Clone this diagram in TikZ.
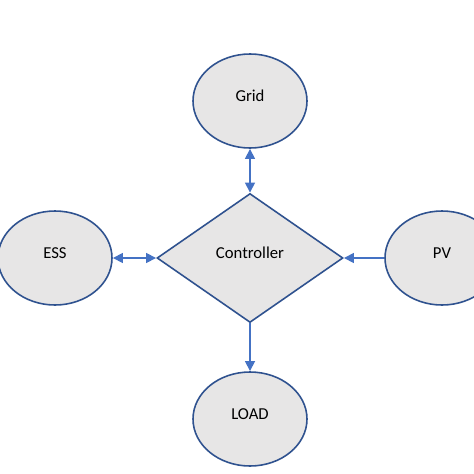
\documentclass[tikz,border=0pt]{standalone}
\usepackage{fontspec}
\setmainfont{Carlito}
\usetikzlibrary{shapes.geometric, arrows.meta}

\definecolor{rimblue}{RGB}{47,82,143}
\definecolor{linkblue}{RGB}{68,114,196}
\definecolor{boxgray}{RGB}{231,230,230}

\tikzset{
    unit/.style={ellipse, draw=rimblue, fill=boxgray, line width=0.9pt,
        minimum width=22.8mm, minimum height=18.8mm, inner sep=0pt,
        text height=8pt, text depth=7.6pt, font=\fontsize{9.5}{11}\selectfont},
    ctrl/.style={diamond, draw=rimblue, fill=boxgray, line width=0.9pt,
        minimum width=37.2mm, minimum height=25.8mm, inner sep=0pt,
        text height=8pt, text depth=7.6pt, font=\fontsize{9.5}{11}\selectfont},
    link/.style={draw=linkblue, line width=1.7pt},
    tip/.tip={Triangle[length=2mm, width=1.9mm]}
}

\begin{document}
\begin{tikzpicture}[x=0.2mm, y=-0.2mm]
        \useasboundingbox (0,0) rectangle (474,474);
        \node[ctrl] (controller) at (250,258) {Controller};
        \node[unit] (grid) at (250,101) {Grid};
        \node[unit] (ess) at (55,258) {ESS};
        \node[unit] (pv) at (442,258) {PV};
        \node[unit] (load) at (250,419) {LOAD};
        \draw[link, tip-tip] (grid) -- (controller);
        \draw[link, tip-tip] (ess) -- (controller);
        \draw[link, -tip] (pv) -- (controller);
        \draw[link, -tip] (controller) -- (load);
\end{tikzpicture}
\end{document}
